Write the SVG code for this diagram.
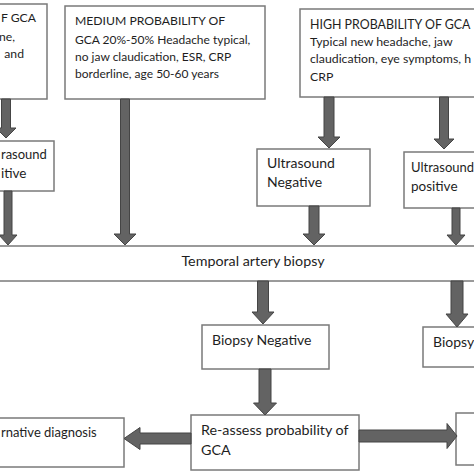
<svg xmlns="http://www.w3.org/2000/svg" width="474" height="474" viewBox="0 0 474 474">
<style>
.box{fill:#fff;stroke:#7a7a7a;stroke-width:1.5}
.t{font-family:Lato,"Open Sans","Liberation Sans",sans-serif;font-size:13.5px;fill:#1e1e1e}
.s{font-size:12.2px}
.arr{fill:#636363;stroke:#454545;stroke-width:1}
</style>
<rect width="474" height="474" fill="#fff"/>
<g id="low">
<rect class="box" x="-5" y="4" width="52" height="95"/>
<text class="t s" x="36" y="22" text-anchor="end">F GCA</text>
<text class="t s" x="15" y="41" text-anchor="end">ne,</text>
<text class="t s" x="24" y="58" text-anchor="end">and</text>
</g>
<g id="medium">
<rect class="box" x="65" y="6" width="200" height="93"/>
<text class="t s" x="75" y="25">MEDIUM PROBABILITY OF</text>
<text class="t" x="75" y="44" style="font-size:12px">GCA 20%-50% Headache typical,</text>
<text class="t" x="75" y="61" style="font-size:12px">no jaw claudication, ESR, CRP</text>
<text class="t" x="75" y="78" style="font-size:12px">borderline, age 50-60 years</text>
</g>
<g id="high">
<rect class="box" x="300" y="9" width="180" height="88"/>
<text class="t" x="310" y="29" style="font-size:12.4px">HIGH PROBABILITY OF GCA</text>
<text class="t" x="310" y="46" style="font-size:12.3px">Typical new headache, jaw</text>
<text class="t" x="310" y="63" style="font-size:12.3px">claudication, eye symptoms, h</text>
<text class="t" x="310" y="81" style="font-size:12.3px">CRP</text>
</g>
<g id="us-pos-left">
<rect class="box" x="-5" y="141" width="59" height="50"/>
<text class="t" x="1" y="159" style="font-size:13px">rasound</text>
<text class="t" x="1" y="178" style="font-size:13.5px">itive</text>
</g>
<g id="us-neg">
<rect class="box" x="257" y="149" width="113" height="57"/>
<text class="t" x="267" y="168" style="font-size:14px">Ultrasound</text>
<text class="t" x="267" y="187" style="font-size:14px">Negative</text>
</g>
<g id="us-pos">
<rect class="box" x="404" y="152" width="80" height="56"/>
<text class="t" x="411" y="172" style="font-size:13px">Ultrasound</text>
<text class="t" x="411" y="191" style="font-size:13.5px">positive</text>
</g>
<g id="tab">
<rect class="box" x="-5" y="246" width="484" height="35"/>
<text class="t" x="253" y="266" text-anchor="middle" style="font-size:14.3px">Temporal artery biopsy</text>
</g>
<g id="biopsy-neg">
<rect class="box" x="202" y="325" width="127" height="44"/>
<text class="t" x="212" y="345" style="font-size:14px">Biopsy Negative</text>
</g>
<g id="biopsy-pos">
<rect class="box" x="423" y="327" width="60" height="40"/>
<text class="t" x="433" y="347" style="font-size:14px">Biopsy</text>
</g>
<g id="alt">
<rect class="box" x="-5" y="418" width="129" height="49"/>
<text class="t" x="1" y="437" style="font-size:13px">rnative diagnosis</text>
</g>
<g id="reassess">
<rect class="box" x="191" y="415" width="168" height="55"/>
<text class="t" x="201" y="435" style="font-size:14.3px">Re-assess probability of</text>
<text class="t" x="201" y="455" style="font-size:14.3px">GCA</text>
</g>
<g id="right">
<rect class="box" x="456" y="413" width="30" height="52"/>
</g>
<g id="connectors">
<polygon class="arr" points="1.5,99 10.5,99 10.5,128 16,128 6,138 -4,128 1.5,128"/>
<polygon class="arr" points="4,191 12,191 12,235 17,235 8,245 -1,235 4,235"/>
<polygon class="arr" points="120.5,99 129.5,99 129.5,234 136,234 125,245 114,234 120.5,234"/>
<polygon class="arr" points="324,97 334,97 334,137 340,137 329,148 318,137 324,137"/>
<polygon class="arr" points="309,206 319,206 319,234 325,234 314,245 303,234 309,234"/>
<polygon class="arr" points="439.5,97 448.5,97 448.5,139 454,139 444,149 434,139 439.5,139"/>
<polygon class="arr" points="452,208 460,208 460,235 465,235 456,245 447,235 452,235"/>
<polygon class="arr" points="257.5,281 268.5,281 268.5,312 274,312 263,324 252,312 257.5,312"/>
<polygon class="arr" points="451,281 463,281 463,314 468,314 457,327 446,314 451,314"/>
<polygon class="arr" points="259,369 271,369 271,403 276.5,403 265,415 253.5,403 259,403"/>
<polygon class="arr" points="191,433 140,433 140,427.5 124,438.5 140,449.5 140,444 191,444"/>
<polygon class="arr" points="359,430 447,430 447,423.5 457,436 447,448.5 447,442 359,442"/>
</g>
</svg>
